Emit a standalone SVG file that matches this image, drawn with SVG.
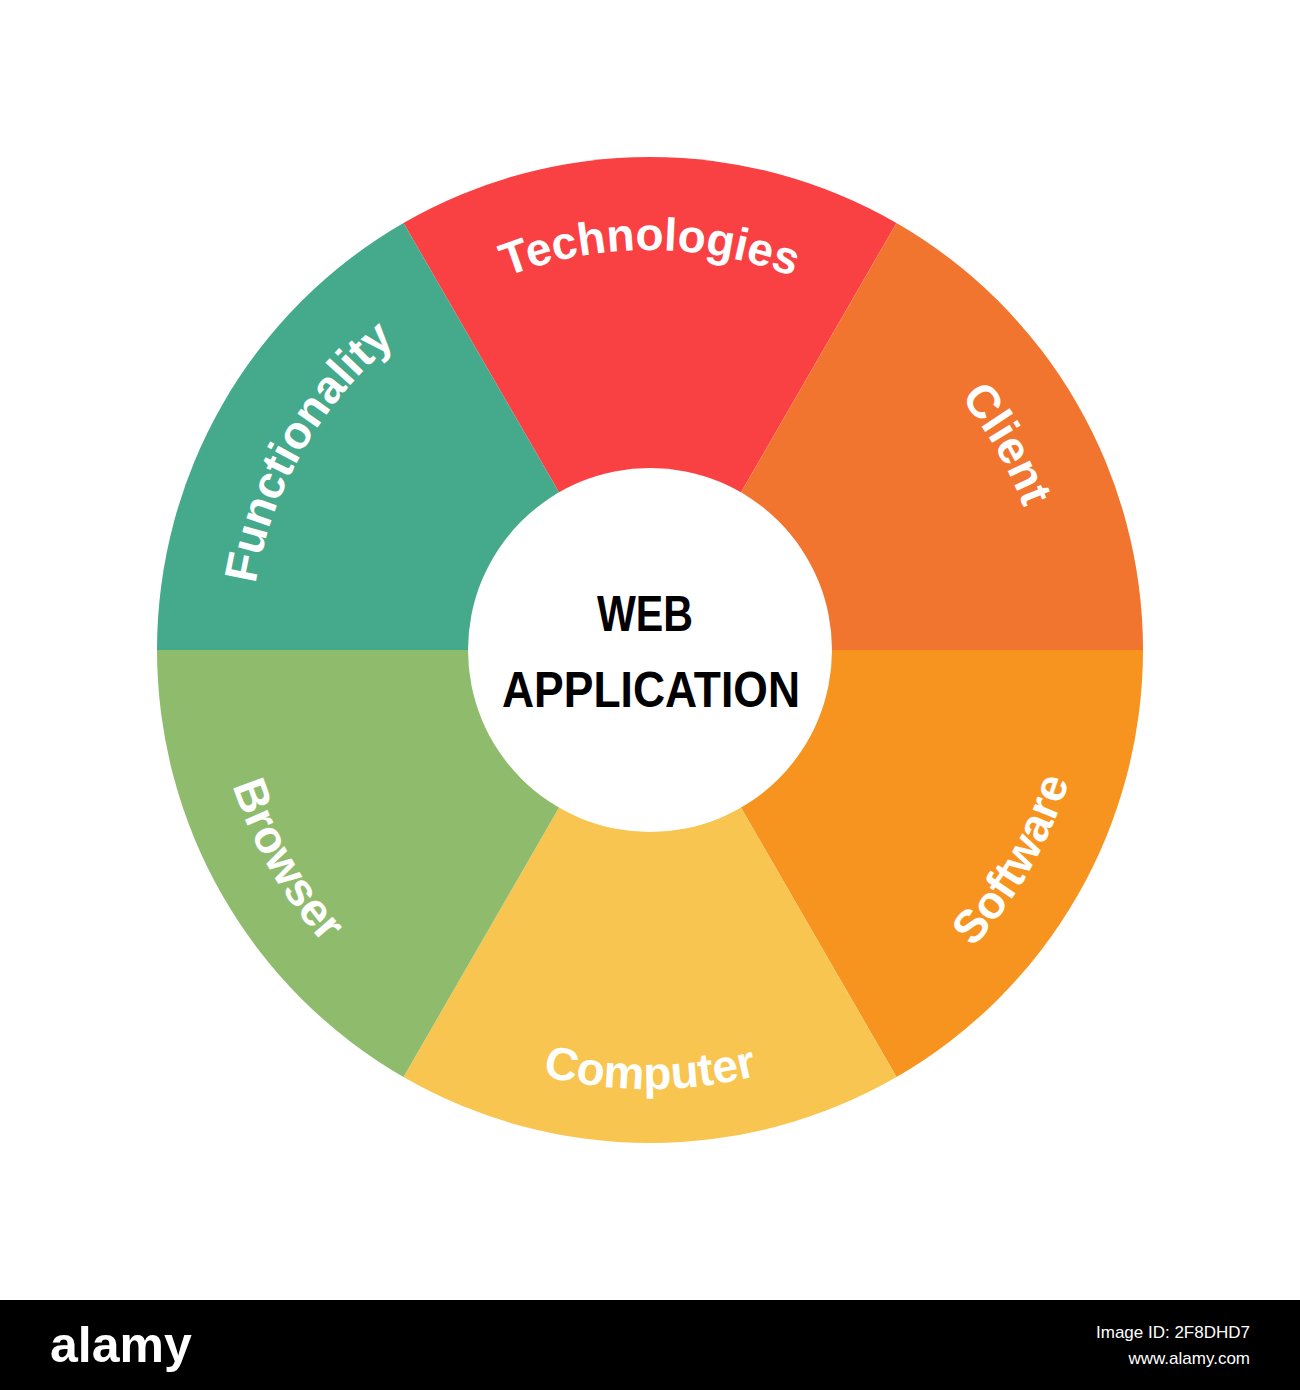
<svg xmlns="http://www.w3.org/2000/svg" width="1300" height="1390" viewBox="0 0 1300 1390">
<style>
.lbl{font-family:"Liberation Sans",Arial,sans-serif;font-weight:bold;font-size:46px;fill:#fff}
.ctr{font-family:"Liberation Sans",Arial,sans-serif;font-weight:bold;font-size:50px;fill:#000}
</style>
<defs>
<path id="pT" d="M450,303.6 A400,400 0 0 1 850,303.6"/>
<path id="pC" d="M850,303.6 A400,400 0 0 1 1050,650"/>
<path id="pF" d="M250,650 A400,400 0 0 1 450,303.6"/>
<path id="pS" d="M869.5,1030.2 A439,439 0 0 0 1089,650"/>
<path id="pM" d="M430.5,1030.2 A439,439 0 0 0 869.5,1030.2"/>
<path id="pB" d="M211,650 A439,439 0 0 0 430.5,1030.2"/>
</defs>
<rect width="1300" height="1390" fill="#fff"/>
<g id="technologies"><path d="M650,650 L403.5,223 A493,493 0 0 1 896.5,223 Z" fill="#F94144"/><text class="lbl"><textPath href="#pT" startOffset="50%" text-anchor="middle">Technologies</textPath></text></g>
<g id="client"><path d="M650,650 L896.5,223 A493,493 0 0 1 1143,650 Z" fill="#F1742F"/><text class="lbl"><textPath href="#pC" startOffset="50%" text-anchor="middle">Client</textPath></text></g>
<g id="software"><path d="M650,650 L1143,650 A493,493 0 0 1 896.5,1077 Z" fill="#F7941F"/><text class="lbl"><textPath href="#pS" startOffset="50%" text-anchor="middle">Software</textPath></text></g>
<g id="computer"><path d="M650,650 L896.5,1077 A493,493 0 0 1 403.5,1077 Z" fill="#F8C550"/><text class="lbl"><textPath href="#pM" startOffset="50%" text-anchor="middle">Computer</textPath></text></g>
<g id="browser"><path d="M650,650 L403.5,1077 A493,493 0 0 1 157,650 Z" fill="#8FBB6D"/><text class="lbl"><textPath href="#pB" startOffset="50%" text-anchor="middle">Browser</textPath></text></g>
<g id="functionality"><path d="M650,650 L157,650 A493,493 0 0 1 403.5,223 Z" fill="#45A98B"/><text class="lbl"><textPath href="#pF" startOffset="50%" text-anchor="middle">Functionality</textPath></text></g>
<g id="connectors"></g>
<g id="center"><circle cx="650" cy="650" r="182" fill="#fff"/>
<text class="ctr" x="645" y="631" text-anchor="middle" textLength="96" lengthAdjust="spacingAndGlyphs">WEB</text>
<text class="ctr" x="651" y="707" text-anchor="middle" textLength="298" lengthAdjust="spacingAndGlyphs">APPLICATION</text></g>
<g id="banner"><rect x="0" y="1300" width="1300" height="90" fill="#000"/>
<text x="50" y="1362" font-family="Liberation Sans,Arial,sans-serif" font-weight="bold" font-size="50" fill="#fff">alamy</text>
<text x="1250" y="1338" text-anchor="end" font-family="Liberation Sans,Arial,sans-serif" font-size="17" fill="#fff">Image ID: 2F8DHD7</text>
<text x="1250" y="1364" text-anchor="end" font-family="Liberation Sans,Arial,sans-serif" font-size="17" fill="#fff">www.alamy.com</text></g>
</svg>
